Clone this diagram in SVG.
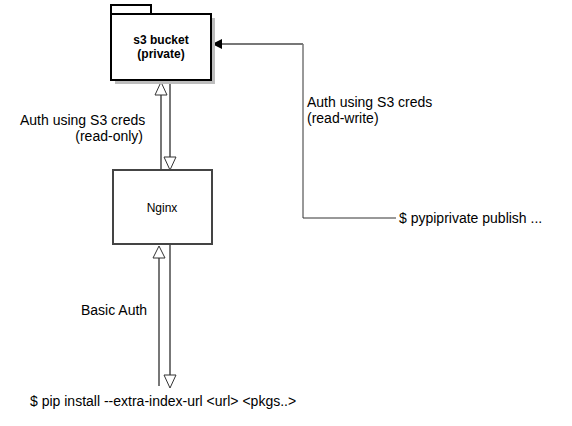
<svg xmlns="http://www.w3.org/2000/svg" width="572" height="426" viewBox="0 0 572 426">
<defs>
<style>
text{font-family:"Liberation Sans",Arial,sans-serif;fill:#000}
.lbl{font-size:14px}
.box{fill:#fff;stroke:#000;stroke-width:2}
.shadow{fill:#bdbdbd}
.ln{stroke:#777;stroke-width:2;fill:none}
.tri{fill:#fff;stroke:#333;stroke-width:1}
</style>
<marker id="filled" markerWidth="10" markerHeight="10" refX="9" refY="5" orient="auto" markerUnits="userSpaceOnUse">
<path d="M0,0 L10,5 L0,10 Z" fill="#000"/>
</marker>
</defs>
<rect width="572" height="426" fill="#fff"/>
<g id="connectors">
<line class="ln" x1="161" y1="95" x2="161" y2="170"/>
<polygon class="tri" points="161,82 155,95 167,95"/>
<line class="ln" x1="170" y1="80" x2="170" y2="157"/>
<polygon class="tri" points="170,170 164,157 176,157"/>
<line class="ln" x1="159" y1="258" x2="159" y2="386"/>
<polygon class="tri" points="159,246 153,258 165,258"/>
<line class="ln" x1="170" y1="244" x2="170" y2="375"/>
<polygon class="tri" points="170,388 164,375 176,375"/>
<polyline points="396,218 303,218 303,44" fill="none" stroke="#333" stroke-width="1"/>
<line x1="303" y1="44" x2="213" y2="44" stroke="#777" stroke-width="2" marker-end="url(#filled)"/>
<text class="lbl" x="20" y="125">Auth using S3 creds</text>
<text class="lbl" x="143" y="141" text-anchor="end">(read-only)</text>
<text class="lbl" x="307" y="107">Auth using S3 creds</text>
<text class="lbl" x="307" y="123">(read-write)</text>
<text class="lbl" x="81" y="315">Basic Auth</text>
</g>
<g id="s3bucket">
<rect class="shadow" x="115" y="18" width="100" height="66"/>
<rect class="box" x="111" y="5" width="40" height="9"/>
<rect class="box" x="111" y="14" width="100" height="66"/>
<text x="161" y="44" text-anchor="middle" font-size="12" font-weight="bold">s3 bucket</text>
<text x="161" y="58" text-anchor="middle" font-size="12" font-weight="bold">(private)</text>
</g>
<g id="nginx">
<rect x="113" y="170" width="99" height="74" fill="#fff" stroke="#444" stroke-width="2"/>
<text x="162" y="212" text-anchor="middle" font-size="12">Nginx</text>
</g>
<g id="publish">
<text class="lbl" x="399" y="223">$ pypiprivate publish ...</text>
</g>
<g id="pip">
<text class="lbl" x="30" y="406">$ pip install --extra-index-url &lt;url&gt; &lt;pkgs..&gt;</text>
</g>
</svg>
